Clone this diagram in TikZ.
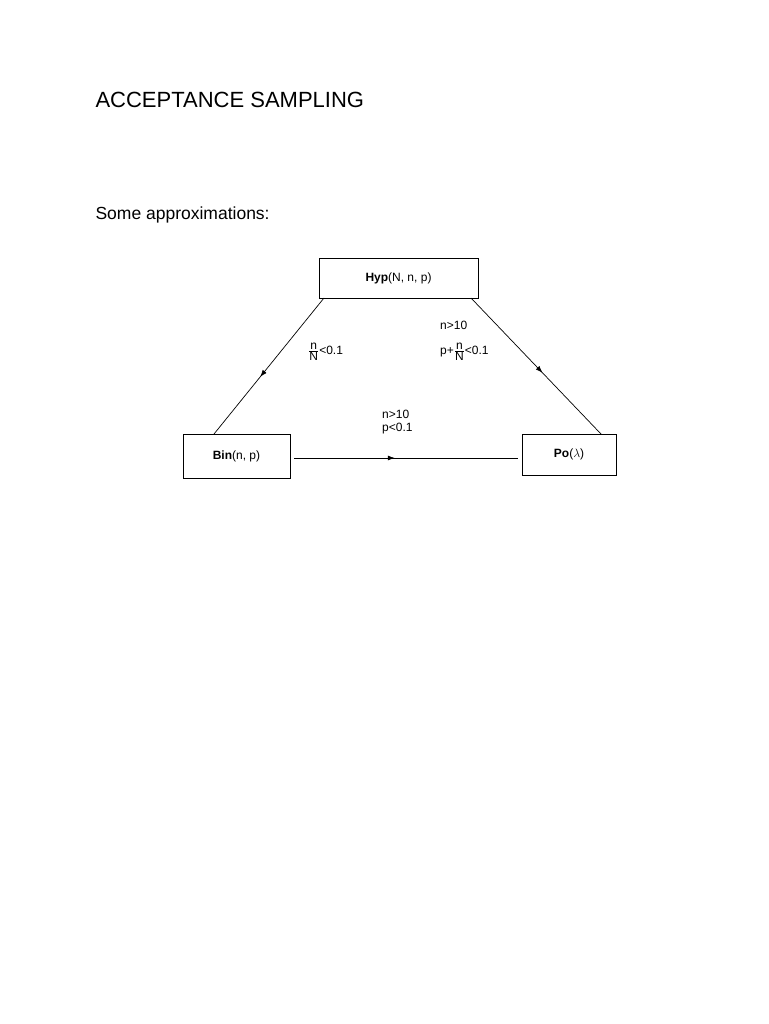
\documentclass[tikz,border=0pt]{standalone}
\usepackage{fontspec}
\setmainfont{Liberation Sans}
\usetikzlibrary{decorations.markings,arrows.meta}
\begin{document}
\begin{tikzpicture}[x=1pt,y=-1pt,
  box/.style={draw,thick,minimum height=40pt,inner sep=0pt,font=\fontsize{12}{14}\selectfont},
  lbl/.style={font=\fontsize{12}{13}\selectfont,inner sep=0pt},
  conn/.style={line width=0.7pt,postaction={decorate},decoration={markings,mark=at position #1 with {\arrow{Latex[length=7pt,width=5pt]}}}}]
\useasboundingbox (0,0) rectangle (768,1024);
\node[anchor=base west,font=\fontsize{22}{26}\selectfont] (title) at (92,108) {ACCEPTANCE SAMPLING};
\node[anchor=base west,font=\fontsize{17.5}{20}\selectfont] (sub) at (92,220) {Some approximations:};
\node[box,minimum width=159pt] (hyp) at (398.5,278) {\textbf{Hyp}(N, n, p)};
\node[box,minimum width=107pt,minimum height=44pt] (bin) at (236.5,456) {\textbf{Bin}(n, p)};
\node[box,minimum width=94pt,minimum height=41pt] (po) at (569,454.5) {\textbf{Po}($\lambda$)};
\coordinate (h1) at (324,298); \coordinate (b1) at (214,434);
\coordinate (h2) at (471,298); \coordinate (p2) at (601,434);
\coordinate (b3) at (294,458); \coordinate (p3) at (518,458);
\draw[conn=0.58] (h1) -- (b1);
\draw[conn=0.55] (h2) -- (p2);
\draw[conn=0.45] (b3) -- (p3);
\node[lbl,anchor=west] (l1) at (308,352) {$\frac{\hbox{n}}{\hbox{N}}$<0.1};
\node[lbl,anchor=west] (l2a) at (440,325) {n>10};
\node[lbl,anchor=west] (l2b) at (440,352) {p+$\frac{\hbox{n}}{\hbox{N}}$<0.1};
\node[lbl,anchor=west,align=left] (l3) at (382,422) {n>10\\p<0.1};
\end{tikzpicture}
\end{document}
